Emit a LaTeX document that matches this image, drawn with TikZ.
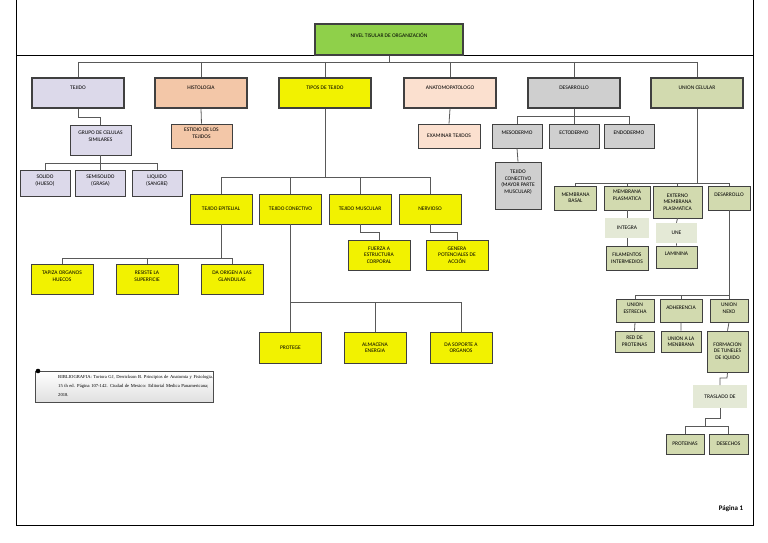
\documentclass[tikz,border=0pt]{standalone}
\usepackage{fontspec}
\setmainfont{Carlito}
\newfontfamily\biblio{Liberation Serif}
\begin{document}
\begin{tikzpicture}[x=1pt,y=-1pt,
 bx/.style={draw=black!75,line width=0.6pt,font=\fontsize{5.5}{6.5}\selectfont,align=center,inner sep=1pt},
 big/.style={bx,line width=1.4pt,minimum width=92pt,minimum height=30pt,text depth=10pt},
 ln/.style={draw=black!65,line width=0.8pt}]
\definecolor{lav}{HTML}{DCD9EA}\definecolor{pea}{HTML}{F3C7A8}\definecolor{lpe}{HTML}{FBE0CF}
\definecolor{gry}{HTML}{CFCFCF}\definecolor{oli}{HTML}{D2DAAF}\definecolor{loli}{HTML}{E4E9D6}
\definecolor{yel}{HTML}{F2F200}\definecolor{grn}{HTML}{8FD04A}
\useasboundingbox (0,0) rectangle (768,543);
\draw[line width=0.8pt] (16,0) -- (16,525) -- (753,525) -- (753,0);
\draw[line width=1pt] (16,56) -- (753,56);
\node[bx,fill=grn,line width=1.4pt,minimum width=148pt,minimum height=31pt,text depth=8pt] (t) at (389,39.5) {NIVEL TISULAR DE ORGANIZACIÓN};
% level 1
\node[big,fill=lav] (a1) at (78,93) {TEJIDO};
\node[big,fill=pea] (a2) at (201,93) {HISTOLOGIA};
\node[big,fill=yel] (a3) at (325,93) {TIPOS DE TEJIDO};
\node[big,fill=lpe] (a4) at (450,93) {ANATOMOPATOLOGO};
\node[big,fill=gry] (a5) at (574,93) {DESARROLLO};
\node[big,fill=oli] (a6) at (697,93) {UNION CELULAR};
\draw[ln] (t.south) -- (389,62) (78,62) -- (697,62);
\foreach \n/\x in {a1/78,a2/201,a3/325,a4/450,a5/574,a6/697} \draw[ln] (\x,62) -- (\n.north);
% tejido
\node[bx,fill=lav,minimum width=61pt,minimum height=30pt,text depth=8pt] (g) at (100.5,140) {GRUPO DE CELULAS\\SIMILARES};
\draw[ln] (a1.south) -- (78,117) -| (g.north);
\foreach \n/\x/\t in {s1/45/{SOLIDO\\(HUESO)},s2/100.5/{SEMISOLIDO\\(GRASA)},s3/157/{LIQUIDO\\(SANGRE)}}{
 \node[bx,fill=lav,minimum width=50pt,minimum height=26pt,text depth=6pt] (\n) at (\x,183) {\t};
 \draw[ln] (\x,163) -- (\n.north);}
\draw[ln] (g.south) -- (100.5,163) (45,163) -- (157,163);
% histologia
\node[bx,fill=pea,minimum width=61pt,minimum height=24pt,text depth=6pt] (h) at (201.5,136) {ESTIDIO DE LOS\\TEJIDOS};
\draw[ln] (a2.south) -- (h.north);
\node[bx,fill=lpe,minimum width=62pt,minimum height=24pt] (e) at (449,136) {EXAMINAR TEJIDOS};
\draw[ln] (a4.south) -- (e.north);
% desarrollo
\foreach \n/\x/\t in {m1/517/MESODERMO,m2/574/ECTODERMO,m3/629/ENDODERMO}{
 \node[bx,fill=gry,minimum width=50pt,minimum height=24pt,text depth=6pt] (\n) at (\x,136) {\t};
 \draw[ln] (\x,116) -- (\n.north);}
\draw[ln] (a5.south) -- (574,116) (517,116) -- (629,116);
\node[bx,fill=gry,minimum width=46pt,minimum height=47pt,text depth=8pt] (tc) at (518,185.5) {TEJIDO\\CONECTIVO\\(MAYOR PARTE\\MUSCULAR)};
\draw[ln] (m1.south) -- (tc.north);
% tipos
\foreach \n/\x/\t in {b1/221/TEJIDO EPITELIAL,b2/290.5/TEJIDO CONECTIVO,b3/360/TEJIDO MUSCULAR,b4/430/NERVIOSO}{
 \node[bx,fill=yel,minimum width=62pt,minimum height=30pt] (\n) at (\x,209) {\t};
 \draw[ln] (\x,177) -- (\n.north);}
\draw[ln] (a3.south) -- (325,177) (221,177) -- (430,177);
\foreach \n/\x/\t in {c1/62/{TAPIZA ORGANOS\\HUECOS},c2/147/{RESISTE LA\\SUPERFICIE},c3/232/{DA ORIGEN A LAS\\GLANDULAS}}{
 \node[bx,fill=yel,minimum width=62pt,minimum height=30pt,text depth=6pt] (\n) at (\x,279) {\t};
 \draw[ln] (\x,258) -- (\n.north);}
\draw[ln] (b1.south) -- (221,258) (62,258) -- (232,258);
\node[bx,fill=yel,minimum width=62pt,minimum height=30pt] (f) at (379,255) {FUERZA A\\ESTRUCTURA\\CORPORAL};
\draw[ln] (b3.south) -- (360,232) -| (f.north);
\node[bx,fill=yel,minimum width=62pt,minimum height=30pt] (gp) at (457,255) {GENERA\\POTENCIALES DE\\ACCIÓN};
\draw[ln] (b4.south) -- (430,232) -| (gp.north);
\foreach \n/\x/\t in {d1/290.5/PROTEGE,d2/375/{ALMACENA\\ENERGIA},d3/461/{DA SOPORTE A\\ORGANOS}}{
 \node[bx,fill=yel,minimum width=62pt,minimum height=31pt] (\n) at (\x,347.5) {\t};
 \draw[ln] (\x,302) -- (\n.north);}
\draw[ln] (b2.south) -- (290.5,302) -- (461,302);
% bibliography
\node[draw=black!70,top color=white,bottom color=black!12,minimum width=178pt,minimum height=31pt,inner sep=0pt] (bib) at (124,386.5) {};
\node[anchor=north west,align=left,font=\biblio\fontsize{4.6}{9}\selectfont,text width=160pt,inner sep=0pt] (bt) at (58,375) {BIBLIOGRAFIA: Tortora GJ, Derrickson B. Principios de Anatomia y Fisiologia. 15 th ed. Página 107-142. Ciudad de Mexico: Editorial Medica Panamericana; 2018.};
\fill (38,371) circle (2.3pt);
% union celular
\node[bx,fill=oli,minimum width=42pt,minimum height=24pt] (u1) at (575.5,198) {MEMBRANA\\BASAL};
\node[bx,fill=oli,minimum width=46pt,minimum height=24pt,text depth=6pt] (u2) at (627,198) {MEMBRANA\\PLASMATICA};
\node[bx,fill=oli,minimum width=49pt,minimum height=32pt] (u3) at (677.5,202) {EXTERNO\\MEMBRANA\\PLASMATICA};
\node[bx,fill=oli,minimum width=42pt,minimum height=24pt,text depth=6pt] (u4) at (729,198) {DESARROLLO};
\draw[ln] (a6.south) -- (697,183) (575.5,183) -- (729,183);
\foreach \n/\x in {u1/575.5,u2/627,u3/677.5,u4/729} \draw[ln] (\x,183) -- (\n.north);
\node[bx,fill=loli,draw=none,minimum width=44pt,minimum height=20pt] (i1) at (627,228) {INTEGRA};
\node[bx,fill=oli,minimum width=42pt,minimum height=24pt] (i2) at (627,258) {FILAMENTOS\\INTERMEDIOS};
\draw[ln] (u2.south) -- (i1.north) (i1.south) -- (i2.north);
\node[bx,fill=loli,draw=none,minimum width=41pt,minimum height=20pt] (n1) at (676.5,233) {UNE};
\node[bx,fill=oli,minimum width=41pt,minimum height=22pt,text depth=6pt] (n2) at (676.5,257) {LAMININA};
\draw[ln] (u3.south) -- (n1.north) (n1.south) -- (n2.north);
\foreach \n/\x/\w/\t in {v1/635/38/{UNION\\ESTRECHA},v2/681/42/ADHERENCIA,v3/729/38/{UNION\\NEXO}}{
 \node[bx,fill=oli,minimum width=\w pt,minimum height=23pt,text depth=5pt] (\n) at (\x,310.5) {\t};
 \draw[ln] (\x,295) -- (\n.north);}
\draw[ln] (u4.south) -- (729,295) (635,295) -- (729,295);
\node[bx,fill=oli,minimum width=39pt,minimum height=21pt] (w1) at (634.5,341.5) {RED DE\\PROTEINAS};
\node[bx,fill=oli,minimum width=40pt,minimum height=21pt] (w2) at (681,341.5) {UNION A LA\\MENBRANA};
\node[bx,fill=oli,minimum width=41pt,minimum height=41pt] (w3) at (727.5,351.5) {FORMACION\\DE TUNELES\\DE IQUIDO};
\draw[ln] (v1.south) -- (w1.north) (v2.south) -- (w2.north) (v3.south) -- (w3.north);
\node[bx,fill=loli,draw=none,minimum width=54pt,minimum height=23pt] (tr) at (720,396.5) {TRASLADO DE};
\draw[ln] (w3.south) -- (727,378) -| (720,385);
\node[bx,fill=oli,minimum width=38pt,minimum height=20pt] (p1) at (685,444) {PROTEINAS};
\node[bx,fill=oli,minimum width=39pt,minimum height=20pt] (p2) at (728.5,444) {DESECHOS};
\draw[ln] (tr.south) -- (720,418) -- (705,418) -- (705,426) (685,426) -- (728.5,426) (685,426) -- (p1.north) (728.5,426) -- (p2.north);
\node[font=\fontsize{7}{8}\selectfont\bfseries] (pg) at (731,509) {Página 1};
\end{tikzpicture}
\end{document}
